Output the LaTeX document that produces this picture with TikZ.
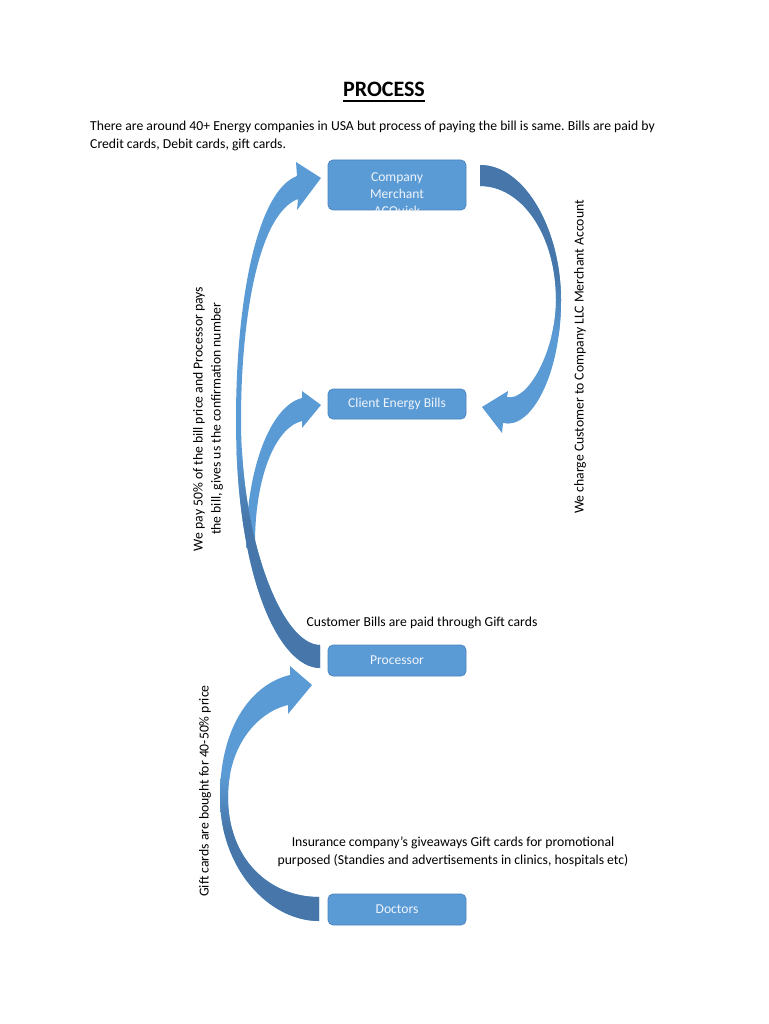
\documentclass[tikz,border=0pt]{standalone}
\usepackage{fontspec}
\setmainfont{Carlito}
\frenchspacing
\definecolor{lb}{HTML}{5B9BD5}
\definecolor{db}{HTML}{4777AA}
\definecolor{bx}{HTML}{5B9BD5}
\definecolor{bxline}{HTML}{4A84BF}
\definecolor{bxtext}{HTML}{EEF4FB}
\begin{document}
\begin{tikzpicture}[x=1pt,y=-1pt,
  box/.style={draw=bxline, line width=0.7pt, fill=bx, rounded corners=5pt, inner sep=0pt, minimum width=138pt},
  boxtext/.style={text=bxtext, font=\fontsize{13.6}{17}\selectfont, align=center, inner sep=0pt},
  body/.style={font=\fontsize{13.7}{18}\selectfont, inner sep=0pt},
]
\useasboundingbox[fill=white] (0,0) rectangle (768,1024);

% ---- arrow B (Processor -> Client Energy Bills), drawn first
\fill[lb] (246,548) .. controls (246,470) and (270,406) .. (302,398) -- (302,391) -- (321,405) -- (302,428) -- (302,421) .. controls (274,428) and (255,480) .. (255,543) -- cycle;

% ---- arrow A (Processor -> Company Merchant)
\path[save path=\pathA] (320,668) .. controls (280,668) and (236,580) .. (236,420) .. controls (236,300) and (257,191) .. (297,176) -- (296,162) -- (321,178) -- (297,210) -- (298,199) .. controls (258,214) and (241,320) .. (241,420) .. controls (241,540) and (282,645) .. (320,645) -- cycle;
\begin{scope}
\path[clip, use path=\pathA];
\fill[lb] (200,150) rectangle (340,680);
\shade[top color=lb, bottom color=db] (200,450) rectangle (340,520);
\fill[db] (200,520) rectangle (340,680);
\end{scope}

% ---- arrow C (Company Merchant -> Client Energy Bills)
\path[save path=\pathC] (480,165) .. controls (525,165) and (561,230) .. (561,300) .. controls (561,375) and (531,430) .. (503,423) -- (502,433) -- (482,407) -- (508,391) -- (507,397) .. controls (528,402) and (556,350) .. (556,300) .. controls (556,235) and (522,186) .. (480,186) -- cycle;
\begin{scope}
\path[clip, use path=\pathC];
\fill[lb] (470,150) rectangle (575,440);
\fill[db] (470,150) rectangle (575,275);
\shade[top color=db, bottom color=lb] (470,275) rectangle (575,335);
\end{scope}

% ---- arrow D (Doctors -> Processor)
\path[save path=\pathD] (319,921) .. controls (270,921) and (220,870) .. (220,797) .. controls (220,722) and (255,683) .. (290,675) -- (290,666) -- (312,685) -- (288,714) -- (288,705) .. controls (258,712) and (228,745) .. (228,797) .. controls (228,860) and (270,897) .. (319,897) -- cycle;
\begin{scope}
\path[clip, use path=\pathD];
\fill[lb] (200,650) rectangle (330,930);
\shade[top color=lb, bottom color=db] (200,775) rectangle (330,830);
\fill[db] (200,830) rectangle (330,930);
\end{scope}

% ---- boxes
\node[box, minimum height=50pt] (cm) at (397,185) {};
\begin{scope}
\clip[rounded corners=5pt] (cm.south west) rectangle (cm.north east);
\node[boxtext] (cmt) at (397,195) {Company\\Merchant\\ACQuick};
\end{scope}
\node[box, minimum height=30pt, boxtext] (ceb) at (397,404) {Client Energy Bills};
\node[box, minimum height=31pt, boxtext] (proc) at (397,660.5) {Processor};
\node[box, minimum height=31pt, boxtext] (doc) at (397,909.5) {Doctors};

% ---- texts
\node[font=\fontsize{22}{26}\selectfont\bfseries, anchor=base, inner sep=0pt] (title) at (384,97) {PROCESS};
\draw[line width=1.8pt] ([yshift=-4pt]title.base west) -- ([yshift=-4pt]title.base east);
\node[body, anchor=base west] (p1) at (90,131) {There are around 40+ Energy companies in USA but process of paying the bill is same. Bills are paid by};
\node[body, anchor=base west] (p2) at (90,149) {Credit cards, Debit cards, gift cards.};
\node[body, anchor=base] (cust) at (422,626) {Customer Bills are paid through Gift cards};
\node[body, align=center] (ins) at (453,852) {Insurance company’s giveaways Gift cards for promotional\\purposed (Standies and advertisements in clinics, hospitals etc)};
\node[body, rotate=90, align=center] (lt) at (208,419) {We pay 50\% of the bill price and Processor pays\\the bill, gives us the confirmation number};
\node[body, rotate=90] (rt) at (580,357) {We charge Customer to Company LLC Merchant Account};
\node[body, rotate=90] (gt) at (205,791) {Gift cards are bought for 40-50\% price};
\end{tikzpicture}
\end{document}
